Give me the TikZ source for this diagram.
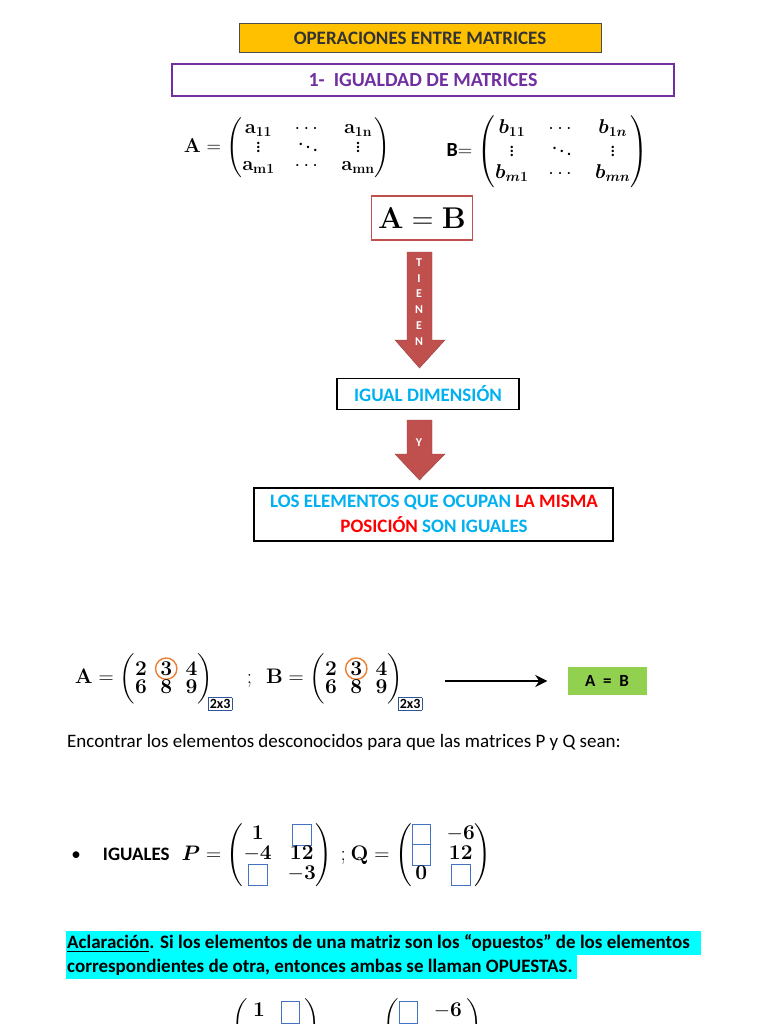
\documentclass[tikz,border=0pt]{standalone}
\usepackage{fix-cm}
\usepackage{amsmath,amssymb,bm}
\usepackage[no-math]{fontspec}
\setmainfont{Carlito}
\usetikzlibrary{arrows.meta}
\definecolor{ttl}{RGB}{255,192,0}
\definecolor{purp}{RGB}{112,48,160}
\definecolor{arr}{RGB}{192,80,77}
\definecolor{sky}{RGB}{0,176,240}
\definecolor{grn}{RGB}{146,208,80}
\definecolor{sqb}{RGB}{68,114,196}
\definecolor{bx}{RGB}{47,85,151}
\definecolor{org}{RGB}{237,125,49}
\definecolor{hl}{RGB}{0,255,255}
\newcommand{\mysq}{\fcolorbox{sqb}{white}{\rule[-3pt]{0pt}{15pt}\hspace{12pt}}}
\newcommand{\dimbox}{\setlength{\fboxsep}{1.5pt}\fcolorbox{bx}{white}{\fontsize{14}{15}\selectfont\textbf{2x3}}}
\newcommand{\circthree}{\tikz[baseline=(c.base)]\node[draw=org,circle,line width=1.4pt,inner sep=1.2pt](c){$\mathbf{3}$};}
\tikzset{
  lbl/.style={font=\fontsize{19}{22}\selectfont\bfseries},
  bigarr/.style={draw=arr!80!black, fill=arr},
  txt/.style={anchor=west, inner sep=0pt, font=\fontsize{19}{23}\selectfont}
}
\begin{document}
\begin{tikzpicture}[x=1pt,y=-1pt]
\useasboundingbox[fill=white] (0,0) rectangle (768,1024);
\node[draw=black!70, fill=ttl, minimum width=362pt, minimum height=29pt, lbl, text=black!80] (title) at (420,38) {OPERACIONES ENTRE MATRICES};
\node[draw=purp, line width=1.2pt, minimum width=502pt, minimum height=32pt, text=purp, font=\fontsize{20}{22}\selectfont\bfseries] (sub) at (423,80) {1-\ \ IGUALDAD DE MATRICES};
\node (ma) at (285,148) {\fontsize{20}{22}\selectfont\setlength{\arraycolsep}{10pt} $\mathbf{A}=\begin{pmatrix}\mathbf{a_{11}} & \cdots & \mathbf{a_{1n}}\\[-4pt] \vdots & \ddots & \vdots\\[-4pt] \mathbf{a_{m1}} & \cdots & \mathbf{a_{mn}}\end{pmatrix}$};
\node (mb) at (545,152) {\fontsize{20}{22}\selectfont\setlength{\arraycolsep}{10pt} \textbf{B}$=\begin{pmatrix}\bm{b_{11}} & \cdots & \bm{b_{1n}}\\ \vdots & \ddots & \vdots\\ \bm{b_{m1}} & \cdots & \bm{b_{mn}}\end{pmatrix}$};
\node[draw=arr, line width=1.2pt, minimum width=101pt, minimum height=44pt, font=\fontsize{30}{32}\selectfont] (eq) at (422,218) {$\mathbf{A}=\mathbf{B}$};
\draw[bigarr] (407,252) -- (432,252) -- (432,340) -- (445,340) -- (419.5,368) -- (395,340) -- (407,340) -- cycle;
\node[align=center, text=white, font=\fontsize{12}{15.8}\selectfont\bfseries] (tienen) at (419,302) {T\\I\\E\\N\\E\\N};
\node[draw=black, line width=1.2pt, minimum width=182pt, minimum height=31pt, lbl, text=sky] (dim) at (428,394) {IGUAL DIMENSIÓN};
\draw[bigarr] (407,420) -- (432,420) -- (432,454) -- (445,454) -- (419.5,480) -- (395,454) -- (407,454) -- cycle;
\node[text=white, font=\fontsize{12}{12}\selectfont\bfseries] (y) at (419,443) {Y};
\draw[line width=1.2pt] (254,488) rectangle (613,541);
\node[align=center, font=\fontsize{19}{25}\selectfont\bfseries] (pos) at (434,514) {\textcolor{sky}{LOS ELEMENTOS QUE OCUPAN }\textcolor{red}{LA MISMA}\\\textcolor{red}{POSICIÓN }\textcolor{sky}{SON IGUALES}};
\node[anchor=west, inner sep=0pt] (e1) at (70,682) {\fontsize{21}{22}\selectfont\setlength{\arraycolsep}{4pt} $\mathbf{A}=\begin{pmatrix}\mathbf{2} & \circthree & \mathbf{4}\\[-4pt] \mathbf{6} & \mathbf{8} & \mathbf{9}\end{pmatrix}_{\hspace{-5pt}\raisebox{-4pt}{\dimbox}}$\hspace{14pt}$\mathbf{;}$\hspace{14pt}$\mathbf{B}=\begin{pmatrix}\mathbf{2} & \circthree & \mathbf{4}\\[-4pt] \mathbf{6} & \mathbf{8} & \mathbf{9}\end{pmatrix}_{\hspace{-5pt}\raisebox{-4pt}{\dimbox}}$};
\node[fill=grn, minimum width=79pt, minimum height=28pt, font=\fontsize{17}{18}\selectfont\bfseries] (g) at (607,681) {A\ \ =\ \ B};
\coordinate (as) at (445,681);
\draw[line width=1.8pt, -{Stealth[length=12pt,width=12pt]}] (as) -- ([xshift=-20pt]g.west);
\node[txt] (enc) at (67,742) {Encontrar los elementos desconocidos para que las matrices P y Q sean:};
\node[anchor=west, inner sep=0pt] (ig) at (67,855) {\fontsize{19}{22}\selectfont\setlength{\arraycolsep}{8pt} •\hspace{22pt}\textbf{IGUALES}\hspace{12pt}{\fontsize{21}{22}\selectfont $\bm{P}=\begin{pmatrix}\mathbf{1} & \mysq\\[-2pt] \mathbf{-4} & \mathbf{12}\\[-2pt] \mysq & \mathbf{-3}\end{pmatrix}\ \mathbf{;}\ \mathbf{Q}=\begin{pmatrix}\mysq & \mathbf{-6}\\[-2pt] \mysq & \mathbf{12}\\[-2pt] \mathbf{0} & \mysq\end{pmatrix}$}};
\fill[hl] (66,931) rectangle (701,955);
\fill[hl] (66,955) rectangle (577,979);
\node[txt, font=\fontsize{19}{24}\selectfont\bfseries, align=left] (acl) at (67,955) {\underline{Aclaración}. Si los elementos de una matriz son los “opuestos” de los elementos\\correspondientes de otra, entonces ambas se llaman OPUESTAS.};
\node[anchor=north west, inner sep=0pt] (bot) at (228,998) {\fontsize{21}{22}\selectfont\setlength{\arraycolsep}{8pt} $\begin{pmatrix}\ \mathbf{1} & \mysq\ \\ \mathbf{4} & \mathbf{12}\end{pmatrix}\hspace{60pt}\begin{pmatrix}\mysq & \mathbf{-6}\ \\ \mysq & \mathbf{12}\end{pmatrix}$};
\end{tikzpicture}
\end{document}
